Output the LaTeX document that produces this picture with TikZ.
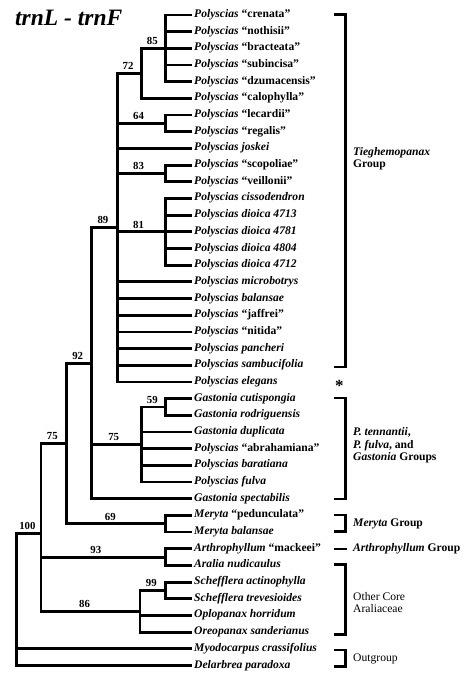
\documentclass[tikz,border=0pt]{standalone}
\usepackage{fontspec}
\setmainfont{Liberation Serif}
\newcommand{\Pol}{\textit{Polyscias}}
\begin{document}
\begin{tikzpicture}[x=1pt,y=-1pt,
    branch/.style={line width=2.8pt},
    bracket/.style={line width=2.4pt},
    tip/.style={anchor=west,inner xsep=2.5pt,inner ysep=0pt,text height=7.5pt,text depth=2.5pt,
      font=\fontsize{11.6}{12}\selectfont\bfseries},
    boot/.style={pos=0.72,above,inner sep=2.2pt,font=\fontsize{10.8}{12}\selectfont\bfseries},
    grp/.style={anchor=west,align=left,inner sep=0pt,font=\fontsize{11.6}{12.3}\selectfont\bfseries},
    grpplain/.style={grp,font=\fontsize{11.6}{12.3}\selectfont}]
  \useasboundingbox (0,0) rectangle (474,684);

  % Titulo
  \node[anchor=base west,inner sep=0pt,font=\fontsize{23.5}{26}\selectfont\bfseries\itshape] (title) at (15,26) {trnL - trnF};

  % Terminales
  \foreach \i/\name in {1/{\Pol{} “crenata”}, 2/{\Pol{} “nothisii”}, 3/{\Pol{} “bracteata”},
      4/{\Pol{} “subincisa”}, 5/{\Pol{} “dzumacensis”}, 6/{\Pol{} “calophylla”},
      7/{\Pol{} “lecardii”}, 8/{\Pol{} “regalis”}, 9/{\textit{Polyscias joskei}},
      10/{\Pol{} “scopoliae”}, 11/{\Pol{} “veillonii”}, 12/{\textit{Polyscias cissodendron}},
      13/{\textit{Polyscias dioica 4713}}, 14/{\textit{Polyscias dioica 4781}},
      15/{\textit{Polyscias dioica 4804}}, 16/{\textit{Polyscias dioica 4712}},
      17/{\textit{Polyscias microbotrys}}, 18/{\textit{Polyscias balansae}},
      19/{\Pol{} “jaffrei”}, 20/{\Pol{} “nitida”}, 21/{\textit{Polyscias pancheri}},
      22/{\textit{Polyscias sambucifolia}}, 23/{\textit{Polyscias elegans}},
      24/{\textit{Gastonia cutispongia}}, 25/{\textit{Gastonia rodriguensis}},
      26/{\textit{Gastonia duplicata}}, 27/{\Pol{} “abrahamiana”},
      28/{\textit{Polyscias baratiana}}, 29/{\textit{Polyscias fulva}},
      30/{\textit{Gastonia spectabilis}}, 31/{\textit{Meryta} “pedunculata”},
      32/{\textit{Meryta balansae}}, 33/{\textit{Arthrophyllum} “mackeei”},
      34/{\textit{Aralia nudicaulus}}, 35/{\textit{Schefflera actinophylla}},
      36/{\textit{Schefflera trevesioides}}, 37/{\textit{Oplopanax horridum}},
      38/{\textit{Oreopanax sanderianus}}, 39/{\textit{Myodocarpus crassifolius}},
      40/{\textit{Delarbrea paradoxa}}}
    \node[tip] (t\i) at (191.5,{15+(\i-1)*16.68}) {\name};

  % Nodos internos
  \coordinate (n85) at (165.7,48.36);
  \coordinate (n72) at (141.7,73.38);
  \coordinate (n64) at (165.7,123.42);
  \coordinate (n83) at (165.7,173.46);
  \coordinate (n81) at (165.7,231.84);
  \coordinate (n89) at (117.3,227.67);
  \coordinate (n59) at (165.7,406.98);
  \coordinate (n75a) at (141.7,444.51);
  \coordinate (n92) at (91.7,363.2);
  \coordinate (n69) at (165.7,523.74);
  \coordinate (n75b) at (66.7,443.47);
  \coordinate (n93) at (165.7,557.1);
  \coordinate (n99) at (165.7,590.46);
  \coordinate (n86) at (140,611.31);
  \coordinate (n41) at (41,533.3);
  \coordinate (root) at (16.7,599);

  % Ramas hacia terminales
  \foreach \i in {1,...,5} \draw[branch] (n85) |- (t\i.west);
  \draw[branch] (n72) |- (t6.west);
  \foreach \i in {7,8} \draw[branch] (n64) |- (t\i.west);
  \foreach \i in {10,11} \draw[branch] (n83) |- (t\i.west);
  \foreach \i in {12,...,16} \draw[branch] (n81) |- (t\i.west);
  \foreach \i in {9,17,18,19,20,21,22,23} \draw[branch] (n89) |- (t\i.west);
  \foreach \i in {24,25} \draw[branch] (n59) |- (t\i.west);
  \foreach \i in {26,...,29} \draw[branch] (n75a) |- (t\i.west);
  \draw[branch] (n92) |- (t30.west);
  \foreach \i in {31,32} \draw[branch] (n69) |- (t\i.west);
  \foreach \i in {33,34} \draw[branch] (n93) |- (t\i.west);
  \foreach \i in {35,36} \draw[branch] (n99) |- (t\i.west);
  \foreach \i in {37,38} \draw[branch] (n86) |- (t\i.west);
  \foreach \i in {39,40} \draw[branch] (root) |- (t\i.west);

  % Ramas internas con soporte
  \draw[branch] (n72) |- node[boot] {85} (n85);
  \draw[branch] (n89) |- node[boot] {72} (n72);
  \draw[branch] (n89) |- node[boot] {64} (n64);
  \draw[branch] (n89) |- node[boot] {83} (n83);
  \draw[branch] (n89) |- node[boot] {81} (n81);
  \draw[branch] (n92) |- node[boot] {89} (n89);
  \draw[branch] (n75a) |- node[boot] {59} (n59);
  \draw[branch] (n92) |- node[boot] {75} (n75a);
  \draw[branch] (n75b) |- node[boot] {92} (n92);
  \draw[branch] (n75b) |- node[boot] {69} (n69);
  \draw[branch] (n41) |- node[boot] {75} (n75b);
  \draw[branch] (n41) |- node[boot] {93} (n93);
  \draw[branch] (n86) |- node[boot] {99} (n99);
  \draw[branch] (n41) |- node[boot] {86} (n86);
  \draw[branch] (root) |- node[boot] {100} (n41);

  % Corchetes de grupos
  \draw[bracket] (333.5,14.5) -| (345.3,367.2) -- (333.5,367.2);
  \draw[bracket] (333.5,397.8) -| (345.3,499.2) -- (333.5,499.2);
  \draw[bracket] (333.5,515.2) -| (345.3,531.6) -- (333.5,531.6);
  \draw[bracket] (333.5,548.7) -- (346.5,548.7);
  \draw[bracket] (333.5,564.4) -| (345.3,634.6) -- (333.5,634.6);
  \draw[bracket] (333.5,650.2) -| (345.3,666.4) -- (333.5,666.4);

  % Nombres de grupos
  \node[grp] (gtiegh) at (353,159) {\textit{Tieghemopanax}\\Group};
  \node[font=\fontsize{17}{17}\selectfont\bfseries,inner sep=0pt] (star) at (339.3,386) {*};
  \node[grp] (ggast) at (353,445.5) {\textit{P. tennantii},\\\textit{P. fulva}, and\\\textit{Gastonia} Groups};
  \node[grp] (gmer) at (353,523.5) {\textit{Meryta} Group};
  \node[grp] (garth) at (353,548.7) {\textit{Arthrophyllum} Group};
  \node[grpplain] (gcore) at (353,602.5) {Other Core\\Araliaceae};
  \node[grpplain] (gout) at (353,659) {Outgroup};
\end{tikzpicture}
\end{document}
